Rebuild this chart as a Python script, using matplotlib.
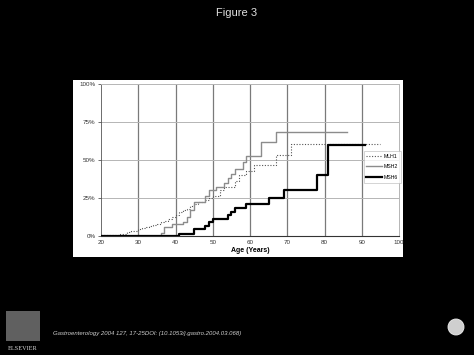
import matplotlib
matplotlib.use("Agg")
import matplotlib.pyplot as plt
from matplotlib.patches import Rectangle, Ellipse

# ── data ──────────────────────────────────────────────────────────────────────
mlh1_age  = [20, 25, 27, 28, 30, 31, 32, 33, 34, 35, 36, 37, 38, 39, 40, 41, 42, 43, 44, 45,
             46, 48, 49, 50, 52, 53, 56, 57, 59, 61, 67, 71, 95]
mlh1_risk = [0.5, 1.5, 2.5, 3.2, 4.3, 5.0, 5.6, 6.3, 7.0, 8.0, 9.0, 10.0, 11.2, 12.5, 14.0, 15.5,
             17.0, 18.0, 19.5, 21.0, 22.5, 23.5, 25.0, 26.0, 30.0, 32.5, 36.5, 40.0, 43.0, 47.0,
             53.0, 60.5, 60.5]

msh2_age  = [20, 36, 37, 39, 42, 43, 44, 45, 48, 49, 51, 53, 54, 55, 56, 58, 59, 63, 67, 86]
msh2_risk = [0, 2.2, 5.9, 8.1, 9.2, 12.5, 17.4, 22.4, 26.0, 30.0, 32.0, 35.0, 38.0, 41.0, 44.0,
             48.6, 52.5, 62.0, 68.4, 68.4]

msh6_age  = [20, 41, 45, 48, 49, 50, 54, 55, 56, 59, 65, 69, 78, 81, 91]
msh6_risk = [0, 1.0, 4.4, 6.4, 9.2, 11.4, 13.6, 15.8, 18.5, 21.3, 25.0, 30.0, 40.0, 60.0, 60.0]

x_ticks = [20, 30, 40, 50, 60, 70, 80, 90, 100]
y_ticks = [0, 25, 50, 75, 100]
y_labels = ["0%", "25%", "50%", "75%", "100%"]

# ── figure ────────────────────────────────────────────────────────────────────
W, H = 474, 355
fig = plt.figure(figsize=(W / 100, H / 100), dpi=100, facecolor="black")
plt.rcParams["font.family"] = ["Liberation Sans", "DejaVu Sans"]

# white panel behind the chart
fig.patches.append(Rectangle((73 / W, 1 - 257 / H), 330 / W, 177 / H,
                             transform=fig.transFigure, facecolor="white",
                             edgecolor="none", zorder=0))

ax = fig.add_axes([101 / W, 1 - 236 / H, 298 / W, 152 / H])
ax.set_facecolor("white")
ax.set_zorder(1)

ax.set_xlim(20, 100)
ax.set_ylim(0, 100)
ax.set_xticks(x_ticks)
ax.set_yticks(y_ticks)
ax.set_yticklabels(y_labels)
ax.tick_params(axis="both", labelsize=4.5, colors="#333333", length=2, width=0.5, pad=2)
ax.tick_params(axis="x", length=0, pad=3)

for x in x_ticks[1:-1]:
    ax.axvline(x, color="#7a7a7a", lw=0.9, zorder=1)
for y in y_ticks[1:-1]:
    ax.axhline(y, color="#b5b5b5", lw=0.7, zorder=1)

for side in ["top", "right"]:
    ax.spines[side].set_color("#b5b5b5")
    ax.spines[side].set_linewidth(0.7)
ax.spines["left"].set_color("#555555")
ax.spines["left"].set_linewidth(0.6)
ax.spines["bottom"].set_color("#333333")
ax.spines["bottom"].set_linewidth(0.8)

ax.plot(mlh1_age, mlh1_risk, drawstyle="steps-post", color="#555555", lw=0.8,
        linestyle=(0, (1, 1.5)), label="MLH1", zorder=3)
ax.plot(msh2_age, msh2_risk, drawstyle="steps-post", color="#8c8c8c", lw=1.0,
        label="MSH2", zorder=3)
ax.plot(msh6_age, msh6_risk, drawstyle="steps-post", color="black", lw=1.6,
        label="MSH6", zorder=4)

leg = ax.legend(loc="upper left", bbox_to_anchor=(0.882, 0.56), fontsize=3.8,
                frameon=True, fancybox=False, handlelength=3.0, handletextpad=0.3,
                borderpad=0.5, labelspacing=1.1, borderaxespad=0)
leg.get_frame().set_edgecolor("#b5b5b5")
leg.get_frame().set_linewidth(0.5)

ax.set_xlabel("Age (Years)", fontsize=5, fontweight="bold", labelpad=1)
ax.set_ylabel("Cumulative risk (%)", fontsize=5, fontweight="bold", labelpad=6)

# headline and footer
fig.text(237 / W, 1 - 13 / H, "Figure 3", color="#e0e0e0", fontsize=8,
         ha="center", va="center")
fig.text(53 / W, 1 - 333 / H,
         "Gastroenterology 2004 127, 17-25DOI: (10.1053/j.gastro.2004.03.068)",
         color="#d0d0d0", fontsize=4.3, style="italic", ha="left", va="center")

# publisher mark and journal seal
fig.patches.append(Rectangle((6 / W, 1 - 341 / H), 34 / W, 30 / H, transform=fig.transFigure,
                             facecolor="#8a8a8a", edgecolor="none", alpha=0.7))
fig.text(23 / W, 1 - 349 / H, "ELSEVIER", color="#d8d8d8", fontsize=4.5,
         family="Liberation Serif", ha="center", va="center")
fig.patches.append(Ellipse((456 / W, 1 - 327 / H), 16 / W, 16 / H, transform=fig.transFigure,
                           facecolor="#cfcfcf", edgecolor="#f0f0f0", lw=0.6))

fig.savefig("out.png", dpi=100, facecolor="black")
